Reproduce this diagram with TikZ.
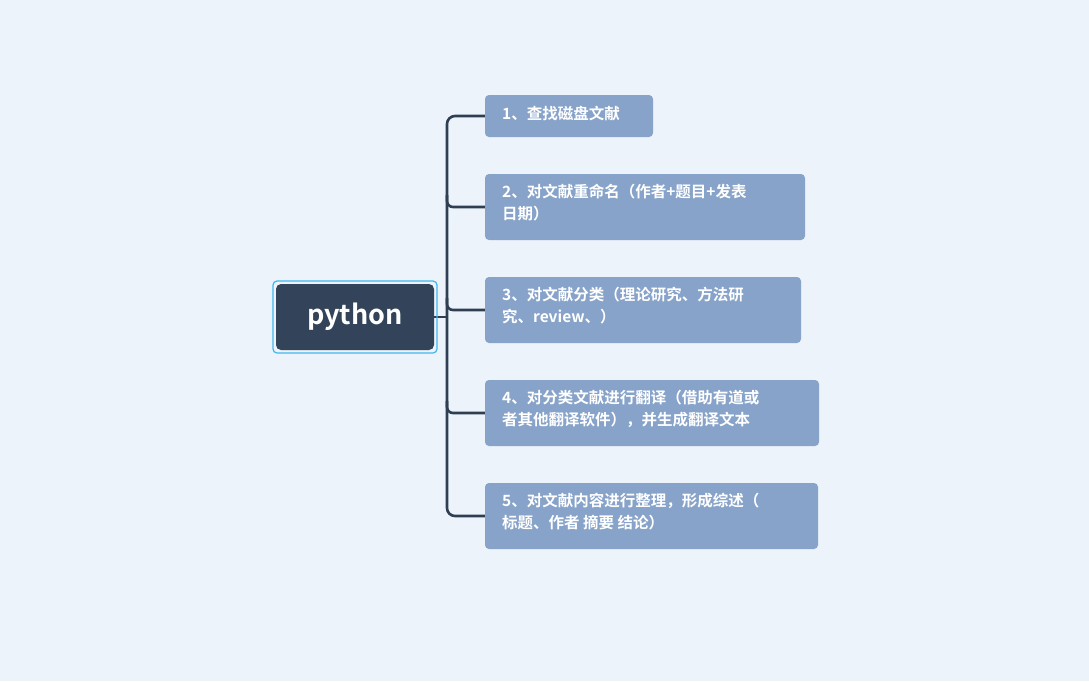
\documentclass[tikz,border=0pt]{standalone}
\usepackage{fontspec}
\newfontfamily\cjk{Noto Sans CJK SC Bold}
\begin{document}
\begin{tikzpicture}[x=1pt,y=-1pt,
  br/.style={fill=boxc,rounded corners=4pt,draw=none},
  lbl/.style={anchor=north west,align=left,text=white,font=\cjk\fontsize{15.5}{22}\selectfont,inner sep=0pt},
  conn/.style={draw=linec,line width=2.6pt,rounded corners=8pt}]
\definecolor{bg}{HTML}{EDF3FA}
\definecolor{boxc}{HTML}{87A3C9}
\definecolor{rootc}{HTML}{334359}
\definecolor{linec}{HTML}{2F3E52}
\definecolor{selc}{HTML}{3FB6F0}
\fill[bg] (0,0) rectangle (1089,681);
\useasboundingbox (0,0) rectangle (1089,681);
% connectors
\coordinate (j) at (447,317);
\draw[conn] (434,317) -- (447,317);
\draw[conn] (485,116) -- (447,116) -- (447,516) -- (485,516);
\foreach \y in {207,310,413} \draw[conn,rounded corners=6pt] (447,\y-12) -- (447,\y) -- (485,\y);
% root
\draw[selc,line width=1.2pt,rounded corners=4pt] (273,281) rectangle (437,353);
\node[fill=rootc,rounded corners=5pt,minimum width=158pt,minimum height=66pt,inner sep=0pt,text=white,font=\cjk\fontsize{27}{30}\selectfont] (root) at (355,317) {python};
% boxes
\fill[br] (485,95) rectangle (653,137);
\node[lbl] (t1) at (502,106) {1、查找磁盘文献};
\fill[br] (485,174) rectangle (805,240);
\node[lbl] (t2) at (502,184) {2、对文献重命名（作者+题目+发表\\日期）};
\fill[br] (485,277) rectangle (801,343);
\node[lbl] (t3) at (502,287) {3、对文献分类（理论研究、方法研\\究、review、）};
\fill[br] (485,380) rectangle (819,446);
\node[lbl] (t4) at (502,390) {4、对分类文献进行翻译（借助有道或\\者其他翻译软件），并生成翻译文本};
\fill[br] (485,483) rectangle (818,549);
\node[lbl] (t5) at (502,493) {5、对文献内容进行整理，形成综述（\\标题、作者 摘要 结论）};
\end{tikzpicture}
\end{document}
